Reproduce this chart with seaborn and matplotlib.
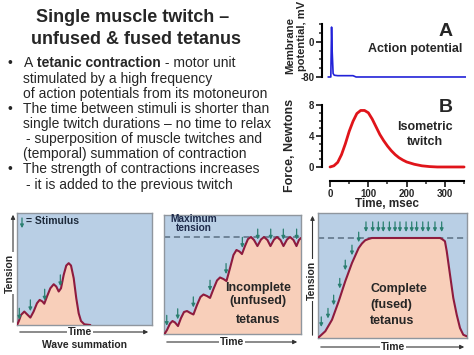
import matplotlib
matplotlib.use('Agg')
import matplotlib.pyplot as plt
import seaborn as sns

# ---- values ----
# A: action potential (time ms, membrane potential mV)
ap_time = [-5, 2, 4, 5.5, 8, 11, 20, 60, 68, 355]
ap_mv = [-80, -80, 34, -20, -72, -76, -77, -77, -80, -80]

# B: isometric twitch (time ms, force N)
tw_time = [0, 10, 20, 30, 40, 50, 60, 70, 80, 90, 100, 110, 120, 130, 140, 150,
           160, 170, 180, 190, 200, 220, 240, 260, 280, 300, 320, 350]
tw_force = [0, 0.15, 0.6, 1.6, 3.0, 4.6, 5.9, 6.9, 7.3, 7.3, 7.0, 6.2, 5.2, 4.2,
            3.4, 2.7, 2.1, 1.6, 1.2, 0.9, 0.65, 0.35, 0.15, 0.05, 0, 0, 0, 0]

# bottom panels, time and tension on a 0-100 scale
ws_time = [0, 1.2, 3, 5.4, 7.9, 9.9, 12.3, 14.8, 16.8, 18.8, 20.2, 22.2, 24.7, 27.2,
           29.1, 30.9, 32.6, 34.6, 36.5, 38.3, 40, 42, 43.9, 45.7, 47.4, 49.9, 54.3]
ws_tension = [0, 3, 9, 12, 9, 6.6, 12, 19.4, 22.4, 21, 19, 25.4, 32.8, 36.4,
              34.3, 29.9, 32.8, 44.8, 53.1, 55.2, 53.1, 41.8, 23.9, 10.4, 3.6, 0.6, 0]
ws_stim_t = [1.7, 9.9, 20.5, 32.1]
ws_stim_tip = [2.4, 9.9, 19.4, 32.2]

inc_time = [0.4, 2.2, 4.4, 6.2, 8.0, 10.2, 12.4, 14.6, 16.8, 19.3, 21.5, 24.1, 26.6,
            28.8, 31.4, 33.6, 36.1, 38.7, 40.9, 43.4, 45.6, 48.2, 50.7, 52.9, 55.1,
            56.9, 59.1, 61.3, 63.5, 65.7, 68.2, 70.8, 73.0, 75.5, 77.7, 80.3, 82.5,
            85.0, 87.2, 89.8, 92.0, 94.5, 96.7, 98.5, 100]
inc_tension = [0, 3.4, 8.8, 10.9, 9.7, 6.7, 13.4, 18.5, 19.3, 17.6, 16.4, 24.4, 31.1,
               33.2, 31.9, 30.3, 37.8, 45.0, 47.5, 46.2, 44.5, 55.5, 66.4, 70.6, 69.3,
               67.2, 73.9, 79.8, 81.5, 79.0, 73.9, 79.4, 81.5, 79.0, 73.9, 79.4, 81.5,
               79.0, 73.9, 79.4, 81.5, 79.0, 73.9, 79.0, 80.7]
inc_stim_t = [2.0, 10.0, 21.4, 33.6, 45.3, 57.2, 68.4, 77.9, 87.1, 96.8]
inc_stim_tip = [4.5, 10, 20, 34, 48, 70, 77, 77, 77, 77]
inc_max = 81.4

com_time = [0.5, 4.9, 9.4, 13.9, 18.3, 22.8, 27.3, 29.5, 31.7, 33.9, 36.2, 81.9,
            83.2, 85.2, 86.4, 88.6, 90.8, 93.1, 95.3, 97.5, 99.8]
com_tension = [0.6, 5.4, 14.6, 29.4, 45.4, 60, 72, 75.6, 78.2, 79.2, 80, 80,
               79.2, 77.4, 69.4, 50.6, 32, 18.6, 8, 2.6, 1.4]
com_stim_t = [2.2, 6.7, 10.5, 14.6, 18.3, 22.8, 27.3, 32.2, 36.7, 40.5, 43.8, 47.9,
              51.7, 55.0, 59.1, 62.9, 66.2, 70.3, 74.0, 78.5, 83.0]
com_stim_tip = [6.6, 13.4, 24, 37.4, 52, 64, 74.4] + [82.6] * 14
com_max = 80

bullet_lines = [
    "stimulated by a high frequency",
    "of action potentials from its motoneuron",
    "The time between stimuli is shorter than",
    "single twitch durations \u2013 no time to relax",
    "- superposition of muscle twitches and",
    "(temporal) summation of contraction",
    "The strength of contractions increases",
    "- it is added to the previous twitch",
]

BLUE_BG = '#b9cfe5'
PINK = '#f8cfba'
MAROON = '#8e1b3e'
GREEN = '#2a7f70'
DASH = '#5a6f82'
FRAME = '#8f969e'

sns.set_style('white')
plt.rcParams['font.family'] = ['Liberation Sans', 'DejaVu Sans']

W, H = 474, 355
fig = plt.figure(figsize=(W / 100, H / 100), dpi=100)


def px_rect(x0, y0, x1, y1):
    return [x0 / W, 1 - y1 / H, (x1 - x0) / W, (y1 - y0) / H]


# overlay in pixel coordinates for the slide text
bg = fig.add_axes([0, 0, 1, 1])
bg.set_xlim(0, W)
bg.set_ylim(H, 0)
bg.axis('off')

bg.text(133, 18, "Single muscle twitch \u2013", ha='center', va='center',
        fontsize=13, fontweight='bold')
bg.text(136, 40, "unfused & fused tetanus", ha='center', va='center',
        fontsize=13, fontweight='bold')

fs = 10
t1 = bg.text(24, 63, "A", va='center', fontsize=fs)
t2 = bg.annotate("tetanic contraction", xy=(1, 0), xycoords=t1, xytext=(2.8, 0),
                 textcoords='offset points', va='bottom', fontsize=fs, fontweight='bold')
bg.annotate(" - motor unit", xy=(1, 0), xycoords=t2, va='bottom', fontsize=fs)
line_y = [79, 94, 109, 124, 139, 154, 169, 185]
line_x = [23, 23, 23, 23, 26, 23, 23, 26]
for txt, x, y in zip(bullet_lines, line_x, line_y):
    bg.text(x, y, txt, va='center', fontsize=fs)
for y in [63, 109, 169]:
    bg.text(10, y, "\u2022", va='center', ha='center', fontsize=fs)

# side labels
bg.text(290, 74, "Membrane", rotation=90, rotation_mode='anchor', ha='left',
        va='center', fontsize=8.2, fontweight='bold')
bg.text(302, 71, "potential, mV", rotation=90, rotation_mode='anchor', ha='left',
        va='center', fontsize=8, fontweight='bold')
bg.text(290, 145, "Force, Newtons", rotation=90, ha='center', va='center',
        fontsize=9, fontweight='bold')
bg.text(446, 32, "A", ha='center', va='center', fontsize=14, fontweight='bold')
bg.text(415, 49, "Action potential", ha='center', va='center', fontsize=9,
        fontweight='bold')
bg.text(446, 107, "B", ha='center', va='center', fontsize=14, fontweight='bold')
bg.text(425, 127, "Isometric", ha='center', va='center', fontsize=9, fontweight='bold')
bg.text(425, 142, "twitch", ha='center', va='center', fontsize=9, fontweight='bold')
bg.text(387, 204, "Time, msec", ha='center', va='center', fontsize=8.5,
        fontweight='bold')

# axis arrows around the bottom panels
arrow_kw = dict(arrowstyle='-|>', color='#333333', lw=0.8, mutation_scale=6)
bg.annotate('', xy=(13, 212), xytext=(13, 325), arrowprops=arrow_kw)
bg.annotate('', xy=(151, 332), xytext=(17, 332), arrowprops=arrow_kw)
bg.annotate('', xy=(300, 342), xytext=(164, 342), arrowprops=arrow_kw)
bg.annotate('', xy=(312.5, 213), xytext=(312.5, 338), arrowprops=arrow_kw)
bg.annotate('', xy=(467, 347), xytext=(318, 347), arrowprops=arrow_kw)
lab_kw = dict(ha='center', va='center', fontsize=7.5, fontweight='bold',
              bbox=dict(fc='white', ec='none', pad=1))
bg.text(10, 273, "Tension", rotation=90, **lab_kw)
bg.text(312, 280, "Tension", rotation=90, **lab_kw)
bg.text(80, 332, "Time", **lab_kw)
bg.text(232, 342, "Time", **lab_kw)
bg.text(393, 347, "Time", **lab_kw)
bg.text(85, 345, "Wave summation", ha='center', va='center', fontsize=7.5,
        fontweight='bold')

# ---- A: action potential ----
axA = fig.add_axes(px_rect(322, 22, 466, 79))
sns.lineplot(x=ap_time, y=ap_mv, ax=axA, color='#2222d8', lw=1.2)
axA.set_xlim(-21, 355)
axA.set_ylim(-84.6, 45.7)
axA.patch.set_alpha(0)
for s in ['top', 'right', 'bottom']:
    axA.spines[s].set_visible(False)
axA.spines['left'].set_bounds(-80, 40)
axA.spines['left'].set_linewidth(1.5)
axA.spines['left'].set_color('black')
axA.set_xticks([])
axA.set_yticks([-80, 0])
axA.set_yticklabels(['-80', '0'])
axA.set_yticks([-60, -40, -20, 20, 40], minor=True)

# ---- B: isometric twitch ----
axB = fig.add_axes(px_rect(322, 100, 466, 170))
sns.lineplot(x=tw_time, y=tw_force, ax=axB, color='#e0141a', lw=2)
axB.set_xlim(-21, 355)
axB.set_ylim(-0.39, 8.65)
axB.patch.set_alpha(0)
for s in ['top', 'right']:
    axB.spines[s].set_visible(False)
axB.spines['left'].set_bounds(0, 8)
axB.spines['bottom'].set_bounds(0, 350)
axB.spines['bottom'].set_position(('outward', 8))
for s in ['left', 'bottom']:
    axB.spines[s].set_linewidth(1.5)
    axB.spines[s].set_color('black')
axB.set_yticks([0, 4, 8])
axB.set_yticks(range(0, 9), minor=True)
axB.set_xticks([0, 100, 200, 300])
axB.set_xticks([50, 150, 250, 350], minor=True)

for ax in [axA, axB]:
    ax.set(xlabel='', ylabel='')
    ax.tick_params(which='major', direction='out', length=4, width=1.3, labelsize=7,
                   pad=1.5, left=True, bottom=True)
    ax.tick_params(which='minor', direction='out', length=2.5, width=1.1,
                   left=True, bottom=True)
    for lab in ax.get_xticklabels() + ax.get_yticklabels():
        lab.set_fontweight('bold')


# ---- bottom panels ----
def tension_panel(rect, t, tension, stim_t, stim_tip, stim_len, max_line=None):
    ax = fig.add_axes(rect)
    ax.set_facecolor(BLUE_BG)
    if max_line is not None:
        ax.axhline(max_line, color=DASH, lw=1.1, ls=(0, (4, 2.5)), zorder=1)
    ax.fill_between(t, tension, color=PINK, lw=0, zorder=2)
    sns.lineplot(x=t, y=tension, ax=ax, color=MAROON, lw=1.5, zorder=3)
    for x, tip in zip(stim_t, stim_tip):
        ax.annotate('', xy=(x, tip), xytext=(x, tip + stim_len),
                    arrowprops=dict(arrowstyle='-|>', color=GREEN, lw=0.9,
                                    mutation_scale=5), zorder=4)
    ax.set_xlim(0, 100)
    ax.set_ylim(0, 100)
    ax.set_xticks([])
    ax.set_yticks([])
    ax.set(xlabel='', ylabel='')
    for s in ax.spines.values():
        s.set_color(FRAME)
        s.set_linewidth(1)
    return ax


ax1 = tension_panel(px_rect(17, 213, 152, 325), ws_time, ws_tension,
                    ws_stim_t, ws_stim_tip, 15)
ax1.annotate('', xy=(3.7, 84), xytext=(3.7, 98),
             arrowprops=dict(arrowstyle='-|>', color=GREEN, lw=0.9, mutation_scale=5))
ax1.text(6.5, 93, "= Stimulus", fontsize=7.5, fontweight='bold', va='center',
         color='#1d2a3a')

ax2 = tension_panel(px_rect(164, 215, 301, 334), inc_time, inc_tension,
                    inc_stim_t, inc_stim_tip, 13.5, max_line=inc_max)
ax2.text(22, 96.5, "Maximum", fontsize=7.3, fontweight='bold', va='center',
         ha='center', color='#1d2a4a')
ax2.text(22, 89, "tension", fontsize=7.3, fontweight='bold', va='center',
         ha='center', color='#1d2a4a')
for y, s in zip([38.5, 27.5, 12], ["Incomplete", "(unfused)", "tetanus"]):
    ax2.text(68.5, y, s, fontsize=9, fontweight='bold', ha='center', va='center')

ax3 = tension_panel(px_rect(318, 213, 467, 338), com_time, com_tension,
                    com_stim_t, com_stim_tip, 12.5, max_line=com_max)
for y, s in zip([39, 26.5, 13.5], ["Complete", "(fused)", "tetanus"]):
    ax3.text(35, y, s, fontsize=9, fontweight='bold', ha='left', va='center')

fig.savefig('out.png', dpi=100)
